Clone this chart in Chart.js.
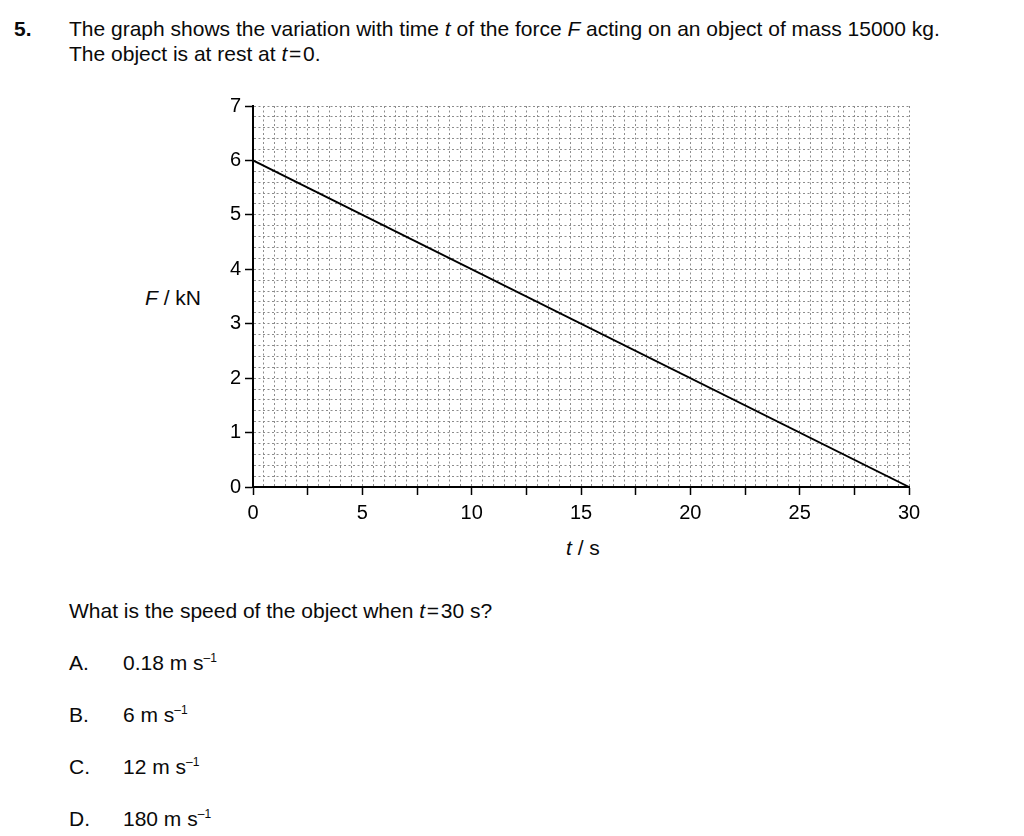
<!DOCTYPE html>
<html>
<head>
<meta charset="utf-8">
<script src="https://cdn.jsdelivr.net/npm/chart.js@4.4.1/dist/chart.umd.min.js"></script>
<style>
  body { margin: 0; background: #fff; font-family: "Liberation Sans", Arial, sans-serif; color: #0a0a0a; }
  #page { position: relative; width: 1024px; height: 836px; overflow: hidden; }
  .t { position: absolute; font-size: 21px; line-height: 25px; white-space: nowrap; }
  sup { font-size: 12px; vertical-align: 8px; line-height: 0; }
  #wrap { position: absolute; left: 190px; top: 90px; width: 740px; height: 437px; }
</style>
</head>
<body>
<div id="page">
  <div class="t" style="left:14px; top:16px; font-weight:bold;">5.</div>
  <div class="t" style="left:69px; top:16px;">The graph shows the variation with time <i>t</i> of the force <i>F</i> acting on an object of mass 15000 kg.<br>The object is at rest at <i>t</i>&#8202;=&#8202;0.</div>

  <div class="t" style="left:145px; top:285px;"><i>F</i> / kN</div>
  <div class="t" style="left:566px; top:535px;"><i>t</i> / s</div>

  <div id="wrap"><canvas id="grafico"></canvas></div>

  <div class="t" style="left:69px; top:598px;">What is the speed of the object when <i>t</i>&#8202;=&#8202;30 s?</div>
  <div class="t" style="left:69px; top:650px;">A.</div>
  <div class="t" style="left:123px; top:650px;">0.18 m s<sup>&ndash;1</sup></div>
  <div class="t" style="left:69px; top:702px;">B.</div>
  <div class="t" style="left:123px; top:702px;">6 m s<sup>&ndash;1</sup></div>
  <div class="t" style="left:69px; top:754px;">C.</div>
  <div class="t" style="left:123px; top:754px;">12 m s<sup>&ndash;1</sup></div>
  <div class="t" style="left:69px; top:806px;">D.</div>
  <div class="t" style="left:123px; top:806px;">180 m s<sup>&ndash;1</sup></div>
</div>

<script>
// datos del grafico: fuerza (kN) contra tiempo (s)
const tiempos = [0, 30]
const fuerzas = [6, 0]

// ejes
const xMin = 0, xMax = 30, xPaso = 0.5, xEtiqueta = 5, xMarca = 2.5
const yMin = 0, yMax = 7, yPaso = 0.2, yEtiqueta = 1

const puntos = tiempos.map((t, i) => ({x: t, y: fuerzas[i]}))

const esMultiplo = (v, m) => Math.abs(v / m - Math.round(v / m)) < 1e-6

const gris = '#8c8c8c'
const transparente = 'rgba(0,0,0,0)'

new Chart(document.getElementById('grafico'), {
    type: 'scatter',
    data: {
        datasets: [
            {
                data: puntos,
                showLine: true,
                borderColor: '#000',
                borderWidth: 1.8,
                pointRadius: 0,
                fill: false
            }
        ]
    },
    options: {
        responsive: true,
        maintainAspectRatio: false,
        animation: false,
        layout: {
            padding: {top: 13, right: 21, left: 0, bottom: 0}
        },
        scales: {
            x: {
                type: 'linear',
                min: xMin,
                max: xMax,
                afterFit: (scale) => { scale.height = 40 },
                ticks: {
                    stepSize: xPaso,
                    autoSkip: false,
                    maxRotation: 0,
                    minRotation: 0,
                    padding: 6,
                    color: '#000',
                    font: {family: 'Liberation Sans', size: 20},
                    callback: (value) => esMultiplo(value, xEtiqueta) ? String(value) : ''
                },
                grid: {
                    color: ({tick}) => (tick && tick.value === xMin) ? transparente : gris,
                    lineWidth: 1,
                    drawTicks: true,
                    tickLength: 8,
                    tickBorderDash: [],
                    tickColor: ({tick}) => (tick && esMultiplo(tick.value, xMarca)) ? '#000' : transparente,
                    tickWidth: 1.5
                },
                // en v4 el punteado de la cuadricula sale de border.dash
                border: {display: true, color: '#000', width: 2, dash: [2, 2.5]}
            },
            y: {
                type: 'linear',
                min: yMin,
                max: yMax,
                afterFit: (scale) => { scale.width = 63 },
                ticks: {
                    stepSize: yPaso,
                    autoSkip: false,
                    padding: 4,
                    color: '#000',
                    font: {family: 'Liberation Sans', size: 20},
                    callback: (value) => esMultiplo(value, yEtiqueta) ? String(Math.round(value)) : ''
                },
                grid: {
                    color: ({tick}) => (tick && Math.abs(tick.value - yMin) < 1e-6) ? transparente : gris,
                    lineWidth: 1,
                    drawTicks: true,
                    tickLength: 8,
                    tickBorderDash: [],
                    tickColor: ({tick}) => (tick && esMultiplo(tick.value, yEtiqueta)) ? '#000' : transparente,
                    tickWidth: 1.5
                },
                border: {display: true, color: '#000', width: 2, dash: [2, 2.5]}
            }
        },
        plugins: {
            legend: {display: false},
            tooltip: {enabled: false}
        }
    }
})
</script>
</body>
</html>
